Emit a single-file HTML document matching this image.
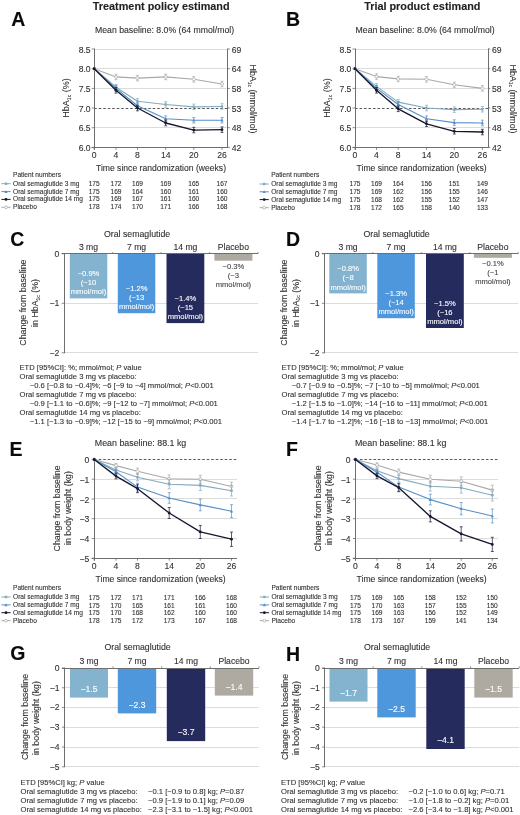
<!DOCTYPE html>
<html lang="en"><head><meta charset="utf-8"><title>Figure</title>
<style>html,body{margin:0;padding:0;background:#fff}svg{display:block}text{stroke-width:0.1px;font-family:"Liberation Sans",Arial,Helvetica,sans-serif}</style>
</head><body>
<svg width="520" height="815" viewBox="0 0 520 815">
<rect width="520" height="815" fill="#fff"/>
<text x="161.2" y="9.5" font-size="10.85" text-anchor="middle" fill="#222" stroke="#222" font-weight="bold">Treatment policy estimand</text>
<text x="422.3" y="9.5" font-size="10.85" text-anchor="middle" fill="#222" stroke="#222" font-weight="bold">Trial product estimand</text>
<text x="11.2" y="25.8" font-size="19.5" text-anchor="start" fill="#0a0a0a" stroke="#0a0a0a" font-weight="bold">A</text>
<text x="285.9" y="25.6" font-size="19.5" text-anchor="start" fill="#0a0a0a" stroke="#0a0a0a" font-weight="bold">B</text>
<text x="10.3" y="245.6" font-size="19.5" text-anchor="start" fill="#0a0a0a" stroke="#0a0a0a" font-weight="bold">C</text>
<text x="285.9" y="245.7" font-size="19.5" text-anchor="start" fill="#0a0a0a" stroke="#0a0a0a" font-weight="bold">D</text>
<text x="9.4" y="456.4" font-size="19.5" text-anchor="start" fill="#0a0a0a" stroke="#0a0a0a" font-weight="bold">E</text>
<text x="285.9" y="456.4" font-size="19.5" text-anchor="start" fill="#0a0a0a" stroke="#0a0a0a" font-weight="bold">F</text>
<text x="10.3" y="660.3" font-size="19.5" text-anchor="start" fill="#0a0a0a" stroke="#0a0a0a" font-weight="bold">G</text>
<text x="285.9" y="660.5" font-size="19.5" text-anchor="start" fill="#0a0a0a" stroke="#0a0a0a" font-weight="bold">H</text>
<line x1="94.2" y1="49.5" x2="227.9" y2="49.5" stroke="#dcdcdc" stroke-width="1"/>
<line x1="94.2" y1="68.5" x2="227.9" y2="68.5" stroke="#dcdcdc" stroke-width="1"/>
<line x1="94.2" y1="88.5" x2="227.9" y2="88.5" stroke="#dcdcdc" stroke-width="1"/>
<line x1="94.2" y1="127.5" x2="227.9" y2="127.5" stroke="#dcdcdc" stroke-width="1"/>
<line x1="94.2" y1="108.5" x2="227.9" y2="108.5" stroke="#3a3a3a" stroke-width="0.85" stroke-dasharray="2.6 1.9"/>
<line x1="94.5" y1="48.5" x2="94.5" y2="149.9" stroke="#6e6e6e" stroke-width="1"/>
<line x1="91.7" y1="147.5" x2="227.9" y2="147.5" stroke="#6e6e6e" stroke-width="1"/>
<line x1="91.7" y1="49.0" x2="94.2" y2="49.0" stroke="#6e6e6e" stroke-width="0.8"/>
<text x="90.6" y="52.5" font-size="8.6" text-anchor="end" fill="#303030" stroke="#303030">8.5</text>
<line x1="91.7" y1="68.7" x2="94.2" y2="68.7" stroke="#6e6e6e" stroke-width="0.8"/>
<text x="90.6" y="72.2" font-size="8.6" text-anchor="end" fill="#303030" stroke="#303030">8.0</text>
<line x1="91.7" y1="88.4" x2="94.2" y2="88.4" stroke="#6e6e6e" stroke-width="0.8"/>
<text x="90.6" y="91.9" font-size="8.6" text-anchor="end" fill="#303030" stroke="#303030">7.5</text>
<line x1="91.7" y1="108.0" x2="94.2" y2="108.0" stroke="#6e6e6e" stroke-width="0.8"/>
<text x="90.6" y="111.5" font-size="8.6" text-anchor="end" fill="#303030" stroke="#303030">7.0</text>
<line x1="91.7" y1="127.7" x2="94.2" y2="127.7" stroke="#6e6e6e" stroke-width="0.8"/>
<text x="90.6" y="131.2" font-size="8.6" text-anchor="end" fill="#303030" stroke="#303030">6.5</text>
<line x1="91.7" y1="147.4" x2="94.2" y2="147.4" stroke="#6e6e6e" stroke-width="0.8"/>
<text x="90.6" y="150.9" font-size="8.6" text-anchor="end" fill="#303030" stroke="#303030">6.0</text>
<line x1="94.2" y1="147.4" x2="94.2" y2="149.9" stroke="#6e6e6e" stroke-width="0.8"/>
<text x="94.2" y="157.8" font-size="8.6" text-anchor="middle" fill="#303030" stroke="#303030">0</text>
<line x1="116" y1="147.4" x2="116" y2="149.9" stroke="#6e6e6e" stroke-width="0.8"/>
<text x="116.0" y="157.8" font-size="8.6" text-anchor="middle" fill="#303030" stroke="#303030">4</text>
<line x1="137.5" y1="147.4" x2="137.5" y2="149.9" stroke="#6e6e6e" stroke-width="0.8"/>
<text x="137.5" y="157.8" font-size="8.6" text-anchor="middle" fill="#303030" stroke="#303030">8</text>
<line x1="165.7" y1="147.4" x2="165.7" y2="149.9" stroke="#6e6e6e" stroke-width="0.8"/>
<text x="165.7" y="157.8" font-size="8.6" text-anchor="middle" fill="#303030" stroke="#303030">14</text>
<line x1="193.8" y1="147.4" x2="193.8" y2="149.9" stroke="#6e6e6e" stroke-width="0.8"/>
<text x="193.8" y="157.8" font-size="8.6" text-anchor="middle" fill="#303030" stroke="#303030">20</text>
<line x1="222" y1="147.4" x2="222" y2="149.9" stroke="#6e6e6e" stroke-width="0.8"/>
<text x="222.0" y="157.8" font-size="8.6" text-anchor="middle" fill="#303030" stroke="#303030">26</text>
<line x1="227.5" y1="48.5" x2="227.5" y2="147.9" stroke="#6e6e6e" stroke-width="1"/>
<line x1="227.9" y1="49.0" x2="229.9" y2="49.0" stroke="#6e6e6e" stroke-width="0.8"/>
<text x="231.7" y="52.5" font-size="8.6" text-anchor="start" fill="#303030" stroke="#303030">69</text>
<line x1="227.9" y1="68.7" x2="229.9" y2="68.7" stroke="#6e6e6e" stroke-width="0.8"/>
<text x="231.7" y="72.2" font-size="8.6" text-anchor="start" fill="#303030" stroke="#303030">64</text>
<line x1="227.9" y1="88.4" x2="229.9" y2="88.4" stroke="#6e6e6e" stroke-width="0.8"/>
<text x="231.7" y="91.9" font-size="8.6" text-anchor="start" fill="#303030" stroke="#303030">58</text>
<line x1="227.9" y1="108.0" x2="229.9" y2="108.0" stroke="#6e6e6e" stroke-width="0.8"/>
<text x="231.7" y="111.5" font-size="8.6" text-anchor="start" fill="#303030" stroke="#303030">53</text>
<line x1="227.9" y1="127.7" x2="229.9" y2="127.7" stroke="#6e6e6e" stroke-width="0.8"/>
<text x="231.7" y="131.2" font-size="8.6" text-anchor="start" fill="#303030" stroke="#303030">48</text>
<line x1="227.9" y1="147.4" x2="229.9" y2="147.4" stroke="#6e6e6e" stroke-width="0.8"/>
<text x="231.7" y="150.9" font-size="8.6" text-anchor="start" fill="#303030" stroke="#303030">42</text>
<polyline points="94.2,68.7 116.0,76.9 137.5,78.1 165.7,76.9 193.8,79.3 222.0,84.0" fill="none" stroke="#a9a9a9" stroke-width="1.1" stroke-linejoin="round"/>
<circle cx="94.2" cy="68.7" r="1.5" fill="#fff" stroke="#a9a9a9" stroke-width="0.7"/>
<path d="M116.0 74.2V79.7M114.5 74.2h3M114.5 79.7h3" stroke="#a9a9a9" stroke-width="0.7" fill="none"/>
<circle cx="116.0" cy="76.9" r="1.5" fill="#fff" stroke="#a9a9a9" stroke-width="0.7"/>
<path d="M137.5 75.4V80.9M136.0 75.4h3M136.0 80.9h3" stroke="#a9a9a9" stroke-width="0.7" fill="none"/>
<circle cx="137.5" cy="78.1" r="1.5" fill="#fff" stroke="#a9a9a9" stroke-width="0.7"/>
<path d="M165.7 74.2V79.7M164.2 74.2h3M164.2 79.7h3" stroke="#a9a9a9" stroke-width="0.7" fill="none"/>
<circle cx="165.7" cy="76.9" r="1.5" fill="#fff" stroke="#a9a9a9" stroke-width="0.7"/>
<path d="M193.8 76.6V82.1M192.3 76.6h3M192.3 82.1h3" stroke="#a9a9a9" stroke-width="0.7" fill="none"/>
<circle cx="193.8" cy="79.3" r="1.5" fill="#fff" stroke="#a9a9a9" stroke-width="0.7"/>
<path d="M222.0 81.3V86.8M220.5 81.3h3M220.5 86.8h3" stroke="#a9a9a9" stroke-width="0.7" fill="none"/>
<circle cx="222.0" cy="84.0" r="1.5" fill="#fff" stroke="#a9a9a9" stroke-width="0.7"/>
<polyline points="94.2,68.7 116.0,87.2 137.5,101.3 165.7,104.5 193.8,106.9 222.0,106.5" fill="none" stroke="#83aabd" stroke-width="1.1" stroke-linejoin="round"/>
<rect x="93.0" y="67.5" width="2.4" height="2.4" fill="#83aabd"/>
<path d="M116.0 84.4V89.9M114.5 84.4h3M114.5 89.9h3" stroke="#83aabd" stroke-width="0.7" fill="none"/>
<rect x="114.8" y="86.0" width="2.4" height="2.4" fill="#83aabd"/>
<path d="M137.5 98.6V104.1M136.0 98.6h3M136.0 104.1h3" stroke="#83aabd" stroke-width="0.7" fill="none"/>
<rect x="136.3" y="100.1" width="2.4" height="2.4" fill="#83aabd"/>
<path d="M165.7 101.7V107.3M164.2 101.7h3M164.2 107.3h3" stroke="#83aabd" stroke-width="0.7" fill="none"/>
<rect x="164.5" y="103.3" width="2.4" height="2.4" fill="#83aabd"/>
<path d="M193.8 104.1V109.6M192.3 104.1h3M192.3 109.6h3" stroke="#83aabd" stroke-width="0.7" fill="none"/>
<rect x="192.6" y="105.7" width="2.4" height="2.4" fill="#83aabd"/>
<path d="M222.0 103.7V109.2M220.5 103.7h3M220.5 109.2h3" stroke="#83aabd" stroke-width="0.7" fill="none"/>
<rect x="220.8" y="105.3" width="2.4" height="2.4" fill="#83aabd"/>
<polyline points="94.2,68.7 116.0,88.4 137.5,105.7 165.7,118.7 193.8,120.2 222.0,120.2" fill="none" stroke="#578fc9" stroke-width="1.1" stroke-linejoin="round"/>
<path d="M94.2 67.1l1.6 2.9h-3.2z" fill="#578fc9"/>
<path d="M116.0 85.6V91.1M114.5 85.6h3M114.5 91.1h3" stroke="#578fc9" stroke-width="0.7" fill="none"/>
<path d="M116.0 86.8l1.6 2.9h-3.2z" fill="#578fc9"/>
<path d="M137.5 102.9V108.4M136.0 102.9h3M136.0 108.4h3" stroke="#578fc9" stroke-width="0.7" fill="none"/>
<path d="M137.5 104.1l1.6 2.9h-3.2z" fill="#578fc9"/>
<path d="M165.7 115.9V121.4M164.2 115.9h3M164.2 121.4h3" stroke="#578fc9" stroke-width="0.7" fill="none"/>
<path d="M165.7 117.1l1.6 2.9h-3.2z" fill="#578fc9"/>
<path d="M193.8 117.5V123.0M192.3 117.5h3M192.3 123.0h3" stroke="#578fc9" stroke-width="0.7" fill="none"/>
<path d="M193.8 118.6l1.6 2.9h-3.2z" fill="#578fc9"/>
<path d="M222.0 117.5V123.0M220.5 117.5h3M220.5 123.0h3" stroke="#578fc9" stroke-width="0.7" fill="none"/>
<path d="M222.0 118.6l1.6 2.9h-3.2z" fill="#578fc9"/>
<polyline points="94.2,68.7 116.0,90.3 137.5,108.0 165.7,123.0 193.8,130.1 222.0,129.7" fill="none" stroke="#15172e" stroke-width="1.35" stroke-linejoin="round"/>
<circle cx="94.2" cy="68.7" r="1.4" fill="#15172e"/>
<path d="M116.0 87.6V93.1M114.5 87.6h3M114.5 93.1h3" stroke="#15172e" stroke-width="0.7" fill="none"/>
<circle cx="116.0" cy="90.3" r="1.4" fill="#15172e"/>
<path d="M137.5 105.3V110.8M136.0 105.3h3M136.0 110.8h3" stroke="#15172e" stroke-width="0.7" fill="none"/>
<circle cx="137.5" cy="108.0" r="1.4" fill="#15172e"/>
<path d="M165.7 120.2V125.8M164.2 120.2h3M164.2 125.8h3" stroke="#15172e" stroke-width="0.7" fill="none"/>
<circle cx="165.7" cy="123.0" r="1.4" fill="#15172e"/>
<path d="M193.8 127.3V132.8M192.3 127.3h3M192.3 132.8h3" stroke="#15172e" stroke-width="0.7" fill="none"/>
<circle cx="193.8" cy="130.1" r="1.4" fill="#15172e"/>
<path d="M222.0 126.9V132.4M220.5 126.9h3M220.5 132.4h3" stroke="#15172e" stroke-width="0.7" fill="none"/>
<circle cx="222.0" cy="129.7" r="1.4" fill="#15172e"/>
<line x1="355" y1="49.5" x2="488.3" y2="49.5" stroke="#dcdcdc" stroke-width="1"/>
<line x1="355" y1="68.5" x2="488.3" y2="68.5" stroke="#dcdcdc" stroke-width="1"/>
<line x1="355" y1="88.5" x2="488.3" y2="88.5" stroke="#dcdcdc" stroke-width="1"/>
<line x1="355" y1="127.5" x2="488.3" y2="127.5" stroke="#dcdcdc" stroke-width="1"/>
<line x1="355" y1="108.5" x2="488.3" y2="108.5" stroke="#3a3a3a" stroke-width="0.85" stroke-dasharray="2.6 1.9"/>
<line x1="355.5" y1="48.5" x2="355.5" y2="149.9" stroke="#6e6e6e" stroke-width="1"/>
<line x1="352.5" y1="147.5" x2="488.3" y2="147.5" stroke="#6e6e6e" stroke-width="1"/>
<line x1="352.5" y1="49.0" x2="355" y2="49.0" stroke="#6e6e6e" stroke-width="0.8"/>
<text x="351.4" y="52.5" font-size="8.6" text-anchor="end" fill="#303030" stroke="#303030">8.5</text>
<line x1="352.5" y1="68.7" x2="355" y2="68.7" stroke="#6e6e6e" stroke-width="0.8"/>
<text x="351.4" y="72.2" font-size="8.6" text-anchor="end" fill="#303030" stroke="#303030">8.0</text>
<line x1="352.5" y1="88.4" x2="355" y2="88.4" stroke="#6e6e6e" stroke-width="0.8"/>
<text x="351.4" y="91.9" font-size="8.6" text-anchor="end" fill="#303030" stroke="#303030">7.5</text>
<line x1="352.5" y1="108.0" x2="355" y2="108.0" stroke="#6e6e6e" stroke-width="0.8"/>
<text x="351.4" y="111.5" font-size="8.6" text-anchor="end" fill="#303030" stroke="#303030">7.0</text>
<line x1="352.5" y1="127.7" x2="355" y2="127.7" stroke="#6e6e6e" stroke-width="0.8"/>
<text x="351.4" y="131.2" font-size="8.6" text-anchor="end" fill="#303030" stroke="#303030">6.5</text>
<line x1="352.5" y1="147.4" x2="355" y2="147.4" stroke="#6e6e6e" stroke-width="0.8"/>
<text x="351.4" y="150.9" font-size="8.6" text-anchor="end" fill="#303030" stroke="#303030">6.0</text>
<line x1="355" y1="147.4" x2="355" y2="149.9" stroke="#6e6e6e" stroke-width="0.8"/>
<text x="355.0" y="157.8" font-size="8.6" text-anchor="middle" fill="#303030" stroke="#303030">0</text>
<line x1="376.5" y1="147.4" x2="376.5" y2="149.9" stroke="#6e6e6e" stroke-width="0.8"/>
<text x="376.5" y="157.8" font-size="8.6" text-anchor="middle" fill="#303030" stroke="#303030">4</text>
<line x1="398.2" y1="147.4" x2="398.2" y2="149.9" stroke="#6e6e6e" stroke-width="0.8"/>
<text x="398.2" y="157.8" font-size="8.6" text-anchor="middle" fill="#303030" stroke="#303030">8</text>
<line x1="426.5" y1="147.4" x2="426.5" y2="149.9" stroke="#6e6e6e" stroke-width="0.8"/>
<text x="426.5" y="157.8" font-size="8.6" text-anchor="middle" fill="#303030" stroke="#303030">14</text>
<line x1="454.3" y1="147.4" x2="454.3" y2="149.9" stroke="#6e6e6e" stroke-width="0.8"/>
<text x="454.3" y="157.8" font-size="8.6" text-anchor="middle" fill="#303030" stroke="#303030">20</text>
<line x1="482.4" y1="147.4" x2="482.4" y2="149.9" stroke="#6e6e6e" stroke-width="0.8"/>
<text x="482.4" y="157.8" font-size="8.6" text-anchor="middle" fill="#303030" stroke="#303030">26</text>
<line x1="488.5" y1="48.5" x2="488.5" y2="147.9" stroke="#6e6e6e" stroke-width="1"/>
<line x1="488.3" y1="49.0" x2="490.3" y2="49.0" stroke="#6e6e6e" stroke-width="0.8"/>
<text x="492.1" y="52.5" font-size="8.6" text-anchor="start" fill="#303030" stroke="#303030">69</text>
<line x1="488.3" y1="68.7" x2="490.3" y2="68.7" stroke="#6e6e6e" stroke-width="0.8"/>
<text x="492.1" y="72.2" font-size="8.6" text-anchor="start" fill="#303030" stroke="#303030">64</text>
<line x1="488.3" y1="88.4" x2="490.3" y2="88.4" stroke="#6e6e6e" stroke-width="0.8"/>
<text x="492.1" y="91.9" font-size="8.6" text-anchor="start" fill="#303030" stroke="#303030">58</text>
<line x1="488.3" y1="108.0" x2="490.3" y2="108.0" stroke="#6e6e6e" stroke-width="0.8"/>
<text x="492.1" y="111.5" font-size="8.6" text-anchor="start" fill="#303030" stroke="#303030">53</text>
<line x1="488.3" y1="127.7" x2="490.3" y2="127.7" stroke="#6e6e6e" stroke-width="0.8"/>
<text x="492.1" y="131.2" font-size="8.6" text-anchor="start" fill="#303030" stroke="#303030">48</text>
<line x1="488.3" y1="147.4" x2="490.3" y2="147.4" stroke="#6e6e6e" stroke-width="0.8"/>
<text x="492.1" y="150.9" font-size="8.6" text-anchor="start" fill="#303030" stroke="#303030">42</text>
<polyline points="355.0,68.7 376.5,76.6 398.2,78.9 426.5,79.3 454.3,84.8 482.4,88.4" fill="none" stroke="#a9a9a9" stroke-width="1.1" stroke-linejoin="round"/>
<circle cx="355.0" cy="68.7" r="1.5" fill="#fff" stroke="#a9a9a9" stroke-width="0.7"/>
<path d="M376.5 73.8V79.3M375.0 73.8h3M375.0 79.3h3" stroke="#a9a9a9" stroke-width="0.7" fill="none"/>
<circle cx="376.5" cy="76.6" r="1.5" fill="#fff" stroke="#a9a9a9" stroke-width="0.7"/>
<path d="M398.2 76.2V81.7M396.7 76.2h3M396.7 81.7h3" stroke="#a9a9a9" stroke-width="0.7" fill="none"/>
<circle cx="398.2" cy="78.9" r="1.5" fill="#fff" stroke="#a9a9a9" stroke-width="0.7"/>
<path d="M426.5 76.6V82.1M425.0 76.6h3M425.0 82.1h3" stroke="#a9a9a9" stroke-width="0.7" fill="none"/>
<circle cx="426.5" cy="79.3" r="1.5" fill="#fff" stroke="#a9a9a9" stroke-width="0.7"/>
<path d="M454.3 82.1V87.6M452.8 82.1h3M452.8 87.6h3" stroke="#a9a9a9" stroke-width="0.7" fill="none"/>
<circle cx="454.3" cy="84.8" r="1.5" fill="#fff" stroke="#a9a9a9" stroke-width="0.7"/>
<path d="M482.4 85.6V91.1M480.9 85.6h3M480.9 91.1h3" stroke="#a9a9a9" stroke-width="0.7" fill="none"/>
<circle cx="482.4" cy="88.4" r="1.5" fill="#fff" stroke="#a9a9a9" stroke-width="0.7"/>
<polyline points="355.0,68.7 376.5,86.4 398.2,102.1 426.5,108.0 454.3,109.6 482.4,109.2" fill="none" stroke="#83aabd" stroke-width="1.1" stroke-linejoin="round"/>
<rect x="353.8" y="67.5" width="2.4" height="2.4" fill="#83aabd"/>
<path d="M376.5 83.6V89.1M375.0 83.6h3M375.0 89.1h3" stroke="#83aabd" stroke-width="0.7" fill="none"/>
<rect x="375.3" y="85.2" width="2.4" height="2.4" fill="#83aabd"/>
<path d="M398.2 99.4V104.9M396.7 99.4h3M396.7 104.9h3" stroke="#83aabd" stroke-width="0.7" fill="none"/>
<rect x="397.0" y="100.9" width="2.4" height="2.4" fill="#83aabd"/>
<path d="M426.5 105.3V110.8M425.0 105.3h3M425.0 110.8h3" stroke="#83aabd" stroke-width="0.7" fill="none"/>
<rect x="425.3" y="106.8" width="2.4" height="2.4" fill="#83aabd"/>
<path d="M454.3 106.9V112.4M452.8 106.9h3M452.8 112.4h3" stroke="#83aabd" stroke-width="0.7" fill="none"/>
<rect x="453.1" y="108.4" width="2.4" height="2.4" fill="#83aabd"/>
<path d="M482.4 106.5V112.0M480.9 106.5h3M480.9 112.0h3" stroke="#83aabd" stroke-width="0.7" fill="none"/>
<rect x="481.2" y="108.0" width="2.4" height="2.4" fill="#83aabd"/>
<polyline points="355.0,68.7 376.5,88.4 398.2,104.5 426.5,118.7 454.3,122.6 482.4,123.0" fill="none" stroke="#578fc9" stroke-width="1.1" stroke-linejoin="round"/>
<path d="M355.0 67.1l1.6 2.9h-3.2z" fill="#578fc9"/>
<path d="M376.5 85.6V91.1M375.0 85.6h3M375.0 91.1h3" stroke="#578fc9" stroke-width="0.7" fill="none"/>
<path d="M376.5 86.8l1.6 2.9h-3.2z" fill="#578fc9"/>
<path d="M398.2 101.7V107.3M396.7 101.7h3M396.7 107.3h3" stroke="#578fc9" stroke-width="0.7" fill="none"/>
<path d="M398.2 102.9l1.6 2.9h-3.2z" fill="#578fc9"/>
<path d="M426.5 115.9V121.4M425.0 115.9h3M425.0 121.4h3" stroke="#578fc9" stroke-width="0.7" fill="none"/>
<path d="M426.5 117.1l1.6 2.9h-3.2z" fill="#578fc9"/>
<path d="M454.3 119.8V125.4M452.8 119.8h3M452.8 125.4h3" stroke="#578fc9" stroke-width="0.7" fill="none"/>
<path d="M454.3 121.0l1.6 2.9h-3.2z" fill="#578fc9"/>
<path d="M482.4 120.2V125.8M480.9 120.2h3M480.9 125.8h3" stroke="#578fc9" stroke-width="0.7" fill="none"/>
<path d="M482.4 121.4l1.6 2.9h-3.2z" fill="#578fc9"/>
<polyline points="355.0,68.7 376.5,90.3 398.2,108.8 426.5,123.8 454.3,131.3 482.4,132.0" fill="none" stroke="#15172e" stroke-width="1.35" stroke-linejoin="round"/>
<circle cx="355.0" cy="68.7" r="1.4" fill="#15172e"/>
<path d="M376.5 87.6V93.1M375.0 87.6h3M375.0 93.1h3" stroke="#15172e" stroke-width="0.7" fill="none"/>
<circle cx="376.5" cy="90.3" r="1.4" fill="#15172e"/>
<path d="M398.2 106.1V111.6M396.7 106.1h3M396.7 111.6h3" stroke="#15172e" stroke-width="0.7" fill="none"/>
<circle cx="398.2" cy="108.8" r="1.4" fill="#15172e"/>
<path d="M426.5 121.0V126.5M425.0 121.0h3M425.0 126.5h3" stroke="#15172e" stroke-width="0.7" fill="none"/>
<circle cx="426.5" cy="123.8" r="1.4" fill="#15172e"/>
<path d="M454.3 128.5V134.0M452.8 128.5h3M452.8 134.0h3" stroke="#15172e" stroke-width="0.7" fill="none"/>
<circle cx="454.3" cy="131.3" r="1.4" fill="#15172e"/>
<path d="M482.4 129.3V134.8M480.9 129.3h3M480.9 134.8h3" stroke="#15172e" stroke-width="0.7" fill="none"/>
<circle cx="482.4" cy="132.0" r="1.4" fill="#15172e"/>
<text x="95.0" y="33.3" font-size="8.7" text-anchor="start" fill="#303030" stroke="#303030">Mean baseline: 8.0% (64 mmol/mol)</text>
<text transform="translate(69.3,98.0) rotate(-90)" font-size="9" text-anchor="middle" fill="#303030" stroke="#303030">HbA<tspan font-size="5" dy="1.6">1c</tspan><tspan dy="-1.6"> </tspan>(%)</text>
<text transform="translate(249.6,99.0) rotate(90)" font-size="8.8" text-anchor="middle" fill="#303030" stroke="#303030">HbA<tspan font-size="5" dy="1.6">1c</tspan><tspan dy="-1.6"> </tspan>(mmol/mol)</text>
<text x="161.0" y="171.0" font-size="8.6" text-anchor="middle" fill="#303030" stroke="#303030">Time since randomization (weeks)</text>
<text x="355.6" y="33.3" font-size="8.7" text-anchor="start" fill="#303030" stroke="#303030">Mean baseline: 8.0% (64 mmol/mol)</text>
<text transform="translate(329.9,98.0) rotate(-90)" font-size="9" text-anchor="middle" fill="#303030" stroke="#303030">HbA<tspan font-size="5" dy="1.6">1c</tspan><tspan dy="-1.6"> </tspan>(%)</text>
<text transform="translate(510.2,99.0) rotate(90)" font-size="8.8" text-anchor="middle" fill="#303030" stroke="#303030">HbA<tspan font-size="5" dy="1.6">1c</tspan><tspan dy="-1.6"> </tspan>(mmol/mol)</text>
<text x="421.6" y="171.0" font-size="8.6" text-anchor="middle" fill="#303030" stroke="#303030">Time since randomization (weeks)</text>
<text x="13.0" y="177.0" font-size="6.6" text-anchor="start" fill="#303030" stroke="#303030">Patient numbers</text>
<line x1="1.4" y1="183.7" x2="10.6" y2="183.7" stroke="#83aabd" stroke-width="1"/>
<rect x="4.8" y="182.5" width="2.4" height="2.4" fill="#83aabd"/>
<text x="13.0" y="185.6" font-size="6.6" text-anchor="start" fill="#303030" stroke="#303030">Oral semaglutide 3 mg</text>
<text x="94.2" y="185.6" font-size="6.6" text-anchor="middle" fill="#303030" stroke="#303030">175</text>
<text x="116.0" y="185.6" font-size="6.6" text-anchor="middle" fill="#303030" stroke="#303030">172</text>
<text x="137.5" y="185.6" font-size="6.6" text-anchor="middle" fill="#303030" stroke="#303030">169</text>
<text x="165.7" y="185.6" font-size="6.6" text-anchor="middle" fill="#303030" stroke="#303030">169</text>
<text x="193.8" y="185.6" font-size="6.6" text-anchor="middle" fill="#303030" stroke="#303030">165</text>
<text x="222.0" y="185.6" font-size="6.6" text-anchor="middle" fill="#303030" stroke="#303030">167</text>
<line x1="1.4" y1="191.6" x2="10.6" y2="191.6" stroke="#578fc9" stroke-width="1"/>
<path d="M6.0 190.0l1.6 2.9h-3.2z" fill="#578fc9"/>
<text x="13.0" y="193.5" font-size="6.6" text-anchor="start" fill="#303030" stroke="#303030">Oral semaglutide 7 mg</text>
<text x="94.2" y="193.5" font-size="6.6" text-anchor="middle" fill="#303030" stroke="#303030">175</text>
<text x="116.0" y="193.5" font-size="6.6" text-anchor="middle" fill="#303030" stroke="#303030">169</text>
<text x="137.5" y="193.5" font-size="6.6" text-anchor="middle" fill="#303030" stroke="#303030">164</text>
<text x="165.7" y="193.5" font-size="6.6" text-anchor="middle" fill="#303030" stroke="#303030">160</text>
<text x="193.8" y="193.5" font-size="6.6" text-anchor="middle" fill="#303030" stroke="#303030">161</text>
<text x="222.0" y="193.5" font-size="6.6" text-anchor="middle" fill="#303030" stroke="#303030">160</text>
<line x1="1.4" y1="199.4" x2="10.6" y2="199.4" stroke="#15172e" stroke-width="1"/>
<circle cx="6.0" cy="199.4" r="1.4" fill="#15172e"/>
<text x="13.0" y="201.3" font-size="6.6" text-anchor="start" fill="#303030" stroke="#303030">Oral semaglutide 14 mg</text>
<text x="94.2" y="201.3" font-size="6.6" text-anchor="middle" fill="#303030" stroke="#303030">175</text>
<text x="116.0" y="201.3" font-size="6.6" text-anchor="middle" fill="#303030" stroke="#303030">169</text>
<text x="137.5" y="201.3" font-size="6.6" text-anchor="middle" fill="#303030" stroke="#303030">167</text>
<text x="165.7" y="201.3" font-size="6.6" text-anchor="middle" fill="#303030" stroke="#303030">161</text>
<text x="193.8" y="201.3" font-size="6.6" text-anchor="middle" fill="#303030" stroke="#303030">160</text>
<text x="222.0" y="201.3" font-size="6.6" text-anchor="middle" fill="#303030" stroke="#303030">160</text>
<line x1="1.4" y1="207.3" x2="10.6" y2="207.3" stroke="#a9a9a9" stroke-width="1"/>
<circle cx="6.0" cy="207.3" r="1.4" fill="#fff" stroke="#a9a9a9" stroke-width="0.7"/>
<text x="13.0" y="209.2" font-size="6.6" text-anchor="start" fill="#303030" stroke="#303030">Placebo</text>
<text x="94.2" y="209.2" font-size="6.6" text-anchor="middle" fill="#303030" stroke="#303030">178</text>
<text x="116.0" y="209.2" font-size="6.6" text-anchor="middle" fill="#303030" stroke="#303030">174</text>
<text x="137.5" y="209.2" font-size="6.6" text-anchor="middle" fill="#303030" stroke="#303030">170</text>
<text x="165.7" y="209.2" font-size="6.6" text-anchor="middle" fill="#303030" stroke="#303030">171</text>
<text x="193.8" y="209.2" font-size="6.6" text-anchor="middle" fill="#303030" stroke="#303030">166</text>
<text x="222.0" y="209.2" font-size="6.6" text-anchor="middle" fill="#303030" stroke="#303030">168</text>
<text x="271.2" y="177.2" font-size="6.6" text-anchor="start" fill="#303030" stroke="#303030">Patient numbers</text>
<line x1="259.59999999999997" y1="184.0" x2="268.8" y2="184.0" stroke="#83aabd" stroke-width="1"/>
<rect x="263.0" y="182.8" width="2.4" height="2.4" fill="#83aabd"/>
<text x="271.2" y="185.9" font-size="6.6" text-anchor="start" fill="#303030" stroke="#303030">Oral semaglutide 3 mg</text>
<text x="355.0" y="185.9" font-size="6.6" text-anchor="middle" fill="#303030" stroke="#303030">175</text>
<text x="376.5" y="185.9" font-size="6.6" text-anchor="middle" fill="#303030" stroke="#303030">169</text>
<text x="398.2" y="185.9" font-size="6.6" text-anchor="middle" fill="#303030" stroke="#303030">164</text>
<text x="426.5" y="185.9" font-size="6.6" text-anchor="middle" fill="#303030" stroke="#303030">156</text>
<text x="454.3" y="185.9" font-size="6.6" text-anchor="middle" fill="#303030" stroke="#303030">151</text>
<text x="482.4" y="185.9" font-size="6.6" text-anchor="middle" fill="#303030" stroke="#303030">149</text>
<line x1="259.59999999999997" y1="191.8" x2="268.8" y2="191.8" stroke="#578fc9" stroke-width="1"/>
<path d="M264.2 190.2l1.6 2.9h-3.2z" fill="#578fc9"/>
<text x="271.2" y="193.7" font-size="6.6" text-anchor="start" fill="#303030" stroke="#303030">Oral semaglutide 7 mg</text>
<text x="355.0" y="193.7" font-size="6.6" text-anchor="middle" fill="#303030" stroke="#303030">175</text>
<text x="376.5" y="193.7" font-size="6.6" text-anchor="middle" fill="#303030" stroke="#303030">169</text>
<text x="398.2" y="193.7" font-size="6.6" text-anchor="middle" fill="#303030" stroke="#303030">162</text>
<text x="426.5" y="193.7" font-size="6.6" text-anchor="middle" fill="#303030" stroke="#303030">156</text>
<text x="454.3" y="193.7" font-size="6.6" text-anchor="middle" fill="#303030" stroke="#303030">155</text>
<text x="482.4" y="193.7" font-size="6.6" text-anchor="middle" fill="#303030" stroke="#303030">146</text>
<line x1="259.59999999999997" y1="199.6" x2="268.8" y2="199.6" stroke="#15172e" stroke-width="1"/>
<circle cx="264.2" cy="199.6" r="1.4" fill="#15172e"/>
<text x="271.2" y="201.5" font-size="6.6" text-anchor="start" fill="#303030" stroke="#303030">Oral semaglutide 14 mg</text>
<text x="355.0" y="201.5" font-size="6.6" text-anchor="middle" fill="#303030" stroke="#303030">175</text>
<text x="376.5" y="201.5" font-size="6.6" text-anchor="middle" fill="#303030" stroke="#303030">168</text>
<text x="398.2" y="201.5" font-size="6.6" text-anchor="middle" fill="#303030" stroke="#303030">162</text>
<text x="426.5" y="201.5" font-size="6.6" text-anchor="middle" fill="#303030" stroke="#303030">155</text>
<text x="454.3" y="201.5" font-size="6.6" text-anchor="middle" fill="#303030" stroke="#303030">152</text>
<text x="482.4" y="201.5" font-size="6.6" text-anchor="middle" fill="#303030" stroke="#303030">147</text>
<line x1="259.59999999999997" y1="207.7" x2="268.8" y2="207.7" stroke="#a9a9a9" stroke-width="1"/>
<circle cx="264.2" cy="207.7" r="1.4" fill="#fff" stroke="#a9a9a9" stroke-width="0.7"/>
<text x="271.2" y="209.6" font-size="6.6" text-anchor="start" fill="#303030" stroke="#303030">Placebo</text>
<text x="355.0" y="209.6" font-size="6.6" text-anchor="middle" fill="#303030" stroke="#303030">178</text>
<text x="376.5" y="209.6" font-size="6.6" text-anchor="middle" fill="#303030" stroke="#303030">172</text>
<text x="398.2" y="209.6" font-size="6.6" text-anchor="middle" fill="#303030" stroke="#303030">165</text>
<text x="426.5" y="209.6" font-size="6.6" text-anchor="middle" fill="#303030" stroke="#303030">158</text>
<text x="454.3" y="209.6" font-size="6.6" text-anchor="middle" fill="#303030" stroke="#303030">140</text>
<text x="482.4" y="209.6" font-size="6.6" text-anchor="middle" fill="#303030" stroke="#303030">133</text>
<line x1="64.2" y1="303.5" x2="258" y2="303.5" stroke="#dcdcdc" stroke-width="1"/>
<line x1="64.2" y1="352.5" x2="258" y2="352.5" stroke="#dcdcdc" stroke-width="1"/>
<rect x="69.8" y="253.8" width="37.5" height="44.6" fill="#84b3d0"/>
<rect x="117.8" y="253.8" width="37.5" height="59.4" fill="#4e97dc"/>
<rect x="166.5" y="253.8" width="37.8" height="69.3" fill="#252b5c"/>
<rect x="214.4" y="253.8" width="38.0" height="6.9" fill="#aeaaa1"/>
<line x1="64.5" y1="253.3" x2="64.5" y2="353.3" stroke="#6e6e6e" stroke-width="1"/>
<line x1="61.7" y1="253.5" x2="258" y2="253.5" stroke="#6e6e6e" stroke-width="1"/>
<line x1="61.7" y1="253.8" x2="64.2" y2="253.8" stroke="#6e6e6e" stroke-width="0.8"/>
<text x="59.4" y="256.5" font-size="8.6" text-anchor="end" fill="#303030" stroke="#303030">0</text>
<line x1="61.7" y1="303.3" x2="64.2" y2="303.3" stroke="#6e6e6e" stroke-width="0.8"/>
<text x="59.4" y="306.0" font-size="8.6" text-anchor="end" fill="#303030" stroke="#303030">−1</text>
<line x1="61.7" y1="352.8" x2="64.2" y2="352.8" stroke="#6e6e6e" stroke-width="0.8"/>
<text x="59.4" y="355.5" font-size="8.6" text-anchor="end" fill="#303030" stroke="#303030">−2</text>
<line x1="112.7" y1="252.0" x2="112.7" y2="253.8" stroke="#6e6e6e" stroke-width="0.7"/>
<line x1="161.1" y1="252.0" x2="161.1" y2="253.8" stroke="#6e6e6e" stroke-width="0.7"/>
<line x1="209.6" y1="252.0" x2="209.6" y2="253.8" stroke="#6e6e6e" stroke-width="0.7"/>
<line x1="258.0" y1="252.0" x2="258.0" y2="253.8" stroke="#6e6e6e" stroke-width="0.7"/>
<text x="88.5" y="249.6" font-size="8.6" text-anchor="middle" fill="#303030" stroke="#303030">3 mg</text>
<text x="136.6" y="249.6" font-size="8.6" text-anchor="middle" fill="#303030" stroke="#303030">7 mg</text>
<text x="185.4" y="249.6" font-size="8.6" text-anchor="middle" fill="#303030" stroke="#303030">14 mg</text>
<text x="233.4" y="249.6" font-size="8.6" text-anchor="middle" fill="#303030" stroke="#303030">Placebo</text>
<text x="137.1" y="236.6" font-size="8.75" text-anchor="middle" fill="#303030" stroke="#303030">Oral semaglutide</text>
<text x="88.5" y="276.1" font-size="7.6" text-anchor="middle" fill="#fff" stroke="#fff">−0.9%</text>
<text x="88.5" y="285.2" font-size="7.6" text-anchor="middle" fill="#fff" stroke="#fff">(−10</text>
<text x="88.5" y="294.4" font-size="7.6" text-anchor="middle" fill="#fff" stroke="#fff">mmol/mol)</text>
<text x="136.6" y="290.9" font-size="7.6" text-anchor="middle" fill="#fff" stroke="#fff">−1.2%</text>
<text x="136.6" y="300.1" font-size="7.6" text-anchor="middle" fill="#fff" stroke="#fff">(−13</text>
<text x="136.6" y="309.3" font-size="7.6" text-anchor="middle" fill="#fff" stroke="#fff">mmol/mol)</text>
<text x="185.4" y="300.8" font-size="7.6" text-anchor="middle" fill="#fff" stroke="#fff">−1.4%</text>
<text x="185.4" y="310.0" font-size="7.6" text-anchor="middle" fill="#fff" stroke="#fff">(−15</text>
<text x="185.4" y="319.2" font-size="7.6" text-anchor="middle" fill="#fff" stroke="#fff">mmol/mol)</text>
<text x="233.4" y="268.7" font-size="7.6" text-anchor="middle" fill="#444" stroke="#444">−0.3%</text>
<text x="233.4" y="277.9" font-size="7.6" text-anchor="middle" fill="#444" stroke="#444">(−3</text>
<text x="233.4" y="287.1" font-size="7.6" text-anchor="middle" fill="#444" stroke="#444">mmol/mol)</text>
<line x1="324.4" y1="303.5" x2="518.2" y2="303.5" stroke="#dcdcdc" stroke-width="1"/>
<line x1="324.4" y1="352.5" x2="518.2" y2="352.5" stroke="#dcdcdc" stroke-width="1"/>
<rect x="329.3" y="253.8" width="37.5" height="39.6" fill="#84b3d0"/>
<rect x="377.3" y="253.8" width="37.5" height="64.4" fill="#4e97dc"/>
<rect x="426.0" y="253.8" width="37.8" height="74.2" fill="#252b5c"/>
<rect x="473.9" y="253.8" width="38.0" height="4.0" fill="#aeaaa1"/>
<line x1="324.5" y1="253.3" x2="324.5" y2="353.3" stroke="#6e6e6e" stroke-width="1"/>
<line x1="321.9" y1="253.5" x2="518.2" y2="253.5" stroke="#6e6e6e" stroke-width="1"/>
<line x1="321.9" y1="253.8" x2="324.4" y2="253.8" stroke="#6e6e6e" stroke-width="0.8"/>
<text x="319.6" y="256.5" font-size="8.6" text-anchor="end" fill="#303030" stroke="#303030">0</text>
<line x1="321.9" y1="303.3" x2="324.4" y2="303.3" stroke="#6e6e6e" stroke-width="0.8"/>
<text x="319.6" y="306.0" font-size="8.6" text-anchor="end" fill="#303030" stroke="#303030">−1</text>
<line x1="321.9" y1="352.8" x2="324.4" y2="352.8" stroke="#6e6e6e" stroke-width="0.8"/>
<text x="319.6" y="355.5" font-size="8.6" text-anchor="end" fill="#303030" stroke="#303030">−2</text>
<line x1="372.9" y1="252.0" x2="372.9" y2="253.8" stroke="#6e6e6e" stroke-width="0.7"/>
<line x1="421.3" y1="252.0" x2="421.3" y2="253.8" stroke="#6e6e6e" stroke-width="0.7"/>
<line x1="469.8" y1="252.0" x2="469.8" y2="253.8" stroke="#6e6e6e" stroke-width="0.7"/>
<line x1="518.2" y1="252.0" x2="518.2" y2="253.8" stroke="#6e6e6e" stroke-width="0.7"/>
<text x="348.1" y="249.6" font-size="8.6" text-anchor="middle" fill="#303030" stroke="#303030">3 mg</text>
<text x="396.1" y="249.6" font-size="8.6" text-anchor="middle" fill="#303030" stroke="#303030">7 mg</text>
<text x="444.9" y="249.6" font-size="8.6" text-anchor="middle" fill="#303030" stroke="#303030">14 mg</text>
<text x="492.9" y="249.6" font-size="8.6" text-anchor="middle" fill="#303030" stroke="#303030">Placebo</text>
<text x="396.6" y="236.6" font-size="8.75" text-anchor="middle" fill="#303030" stroke="#303030">Oral semaglutide</text>
<text x="348.1" y="271.1" font-size="7.6" text-anchor="middle" fill="#fff" stroke="#fff">−0.8%</text>
<text x="348.1" y="280.3" font-size="7.6" text-anchor="middle" fill="#fff" stroke="#fff">(−8</text>
<text x="348.1" y="289.5" font-size="7.6" text-anchor="middle" fill="#fff" stroke="#fff">mmol/mol)</text>
<text x="396.1" y="295.9" font-size="7.6" text-anchor="middle" fill="#fff" stroke="#fff">−1.3%</text>
<text x="396.1" y="305.1" font-size="7.6" text-anchor="middle" fill="#fff" stroke="#fff">(−14</text>
<text x="396.1" y="314.2" font-size="7.6" text-anchor="middle" fill="#fff" stroke="#fff">mmol/mol)</text>
<text x="444.9" y="305.8" font-size="7.6" text-anchor="middle" fill="#fff" stroke="#fff">−1.5%</text>
<text x="444.9" y="314.9" font-size="7.6" text-anchor="middle" fill="#fff" stroke="#fff">(−16</text>
<text x="444.9" y="324.1" font-size="7.6" text-anchor="middle" fill="#fff" stroke="#fff">mmol/mol)</text>
<text x="492.9" y="265.8" font-size="7.6" text-anchor="middle" fill="#444" stroke="#444">−0.1%</text>
<text x="492.9" y="275.0" font-size="7.6" text-anchor="middle" fill="#444" stroke="#444">(−1</text>
<text x="492.9" y="284.2" font-size="7.6" text-anchor="middle" fill="#444" stroke="#444">mmol/mol)</text>
<text transform="translate(26.4,302.6) rotate(-90)" font-size="8.8" text-anchor="middle" fill="#303030" stroke="#303030">Change from baseline</text>
<text transform="translate(38.4,303.0) rotate(-90)" font-size="8.8" text-anchor="middle" fill="#303030" stroke="#303030">in HbA<tspan font-size="5" dy="1.6">1c</tspan><tspan dy="-1.6"> </tspan>(%)</text>
<text transform="translate(286.6,302.6) rotate(-90)" font-size="8.8" text-anchor="middle" fill="#303030" stroke="#303030">Change from baseline</text>
<text transform="translate(298.6,303.0) rotate(-90)" font-size="8.8" text-anchor="middle" fill="#303030" stroke="#303030">in HbA<tspan font-size="5" dy="1.6">1c</tspan><tspan dy="-1.6"> </tspan>(%)</text>
<text x="19.5" y="370.2" font-size="7.62" text-anchor="start" fill="#303030" stroke="#303030">ETD [95%CI]: %; mmol/mol; <tspan font-style="italic">P</tspan> value</text>
<text x="19.5" y="379.2" font-size="7.62" text-anchor="start" fill="#303030" stroke="#303030">Oral semaglutide 3 mg vs placebo:</text>
<text x="29.8" y="388.3" font-size="7.62" text-anchor="start" fill="#303030" stroke="#303030">−0.6 [−0.8 to −0.4]%; −6 [−9 to −4] mmol/mol; <tspan font-style="italic">P</tspan>&lt;0.001</text>
<text x="19.5" y="397.3" font-size="7.62" text-anchor="start" fill="#303030" stroke="#303030">Oral semaglutide 7 mg vs placebo:</text>
<text x="29.8" y="406.3" font-size="7.62" text-anchor="start" fill="#303030" stroke="#303030">−0.9 [−1.1 to −0.6]%; −9 [−12 to −7] mmol/mol; <tspan font-style="italic">P</tspan>&lt;0.001</text>
<text x="19.5" y="415.3" font-size="7.62" text-anchor="start" fill="#303030" stroke="#303030">Oral semaglutide 14 mg vs placebo:</text>
<text x="29.8" y="424.4" font-size="7.62" text-anchor="start" fill="#303030" stroke="#303030">−1.1 [−1.3 to −0.9]%; −12 [−15 to −9] mmol/mol; <tspan font-style="italic">P</tspan>&lt;0.001</text>
<text x="281.5" y="370.2" font-size="7.62" text-anchor="start" fill="#303030" stroke="#303030">ETD [95%CI]: %; mmol/mol; <tspan font-style="italic">P</tspan> value</text>
<text x="281.5" y="379.2" font-size="7.62" text-anchor="start" fill="#303030" stroke="#303030">Oral semaglutide 3 mg vs placebo:</text>
<text x="291.8" y="388.3" font-size="7.62" text-anchor="start" fill="#303030" stroke="#303030">−0.7 [−0.9 to −0.5]%; −7 [−10 to −5] mmol/mol; <tspan font-style="italic">P</tspan>&lt;0.001</text>
<text x="281.5" y="397.3" font-size="7.62" text-anchor="start" fill="#303030" stroke="#303030">Oral semaglutide 7 mg vs placebo:</text>
<text x="291.8" y="406.3" font-size="7.62" text-anchor="start" fill="#303030" stroke="#303030">−1.2 [−1.5 to −1.0]%; −14 [−16 to −11] mmol/mol; <tspan font-style="italic">P</tspan>&lt;0.001</text>
<text x="281.5" y="415.3" font-size="7.62" text-anchor="start" fill="#303030" stroke="#303030">Oral semaglutide 14 mg vs placebo:</text>
<text x="291.8" y="424.4" font-size="7.62" text-anchor="start" fill="#303030" stroke="#303030">−1.4 [−1.7 to −1.2]%; −16 [−18 to −13] mmol/mol; <tspan font-style="italic">P</tspan>&lt;0.001</text>
<line x1="94.2" y1="479.5" x2="237" y2="479.5" stroke="#dcdcdc" stroke-width="1"/>
<line x1="94.2" y1="498.5" x2="237" y2="498.5" stroke="#dcdcdc" stroke-width="1"/>
<line x1="94.2" y1="518.5" x2="237" y2="518.5" stroke="#dcdcdc" stroke-width="1"/>
<line x1="94.2" y1="538.5" x2="237" y2="538.5" stroke="#dcdcdc" stroke-width="1"/>
<line x1="94.2" y1="459.5" x2="237" y2="459.5" stroke="#3a3a3a" stroke-width="0.85" stroke-dasharray="2.6 1.9"/>
<line x1="94.5" y1="459.0" x2="94.5" y2="560.7" stroke="#6e6e6e" stroke-width="1"/>
<line x1="91.7" y1="558.5" x2="237" y2="558.5" stroke="#6e6e6e" stroke-width="1"/>
<line x1="91.7" y1="459.5" x2="94.2" y2="459.5" stroke="#6e6e6e" stroke-width="0.8"/>
<text x="89.4" y="463.0" font-size="8.6" text-anchor="end" fill="#303030" stroke="#303030">0</text>
<line x1="91.7" y1="479.2" x2="94.2" y2="479.2" stroke="#6e6e6e" stroke-width="0.8"/>
<text x="89.4" y="482.7" font-size="8.6" text-anchor="end" fill="#303030" stroke="#303030">−1</text>
<line x1="91.7" y1="499.0" x2="94.2" y2="499.0" stroke="#6e6e6e" stroke-width="0.8"/>
<text x="89.4" y="502.5" font-size="8.6" text-anchor="end" fill="#303030" stroke="#303030">−2</text>
<line x1="91.7" y1="518.7" x2="94.2" y2="518.7" stroke="#6e6e6e" stroke-width="0.8"/>
<text x="89.4" y="522.2" font-size="8.6" text-anchor="end" fill="#303030" stroke="#303030">−3</text>
<line x1="91.7" y1="538.5" x2="94.2" y2="538.5" stroke="#6e6e6e" stroke-width="0.8"/>
<text x="89.4" y="542.0" font-size="8.6" text-anchor="end" fill="#303030" stroke="#303030">−4</text>
<line x1="91.7" y1="558.2" x2="94.2" y2="558.2" stroke="#6e6e6e" stroke-width="0.8"/>
<text x="89.4" y="561.7" font-size="8.6" text-anchor="end" fill="#303030" stroke="#303030">−5</text>
<line x1="94.2" y1="558.2" x2="94.2" y2="560.7" stroke="#6e6e6e" stroke-width="0.8"/>
<text x="94.2" y="568.6" font-size="8.6" text-anchor="middle" fill="#303030" stroke="#303030">0</text>
<line x1="116" y1="558.2" x2="116" y2="560.7" stroke="#6e6e6e" stroke-width="0.8"/>
<text x="116.0" y="568.6" font-size="8.6" text-anchor="middle" fill="#303030" stroke="#303030">4</text>
<line x1="137.5" y1="558.2" x2="137.5" y2="560.7" stroke="#6e6e6e" stroke-width="0.8"/>
<text x="137.5" y="568.6" font-size="8.6" text-anchor="middle" fill="#303030" stroke="#303030">8</text>
<line x1="169.2" y1="558.2" x2="169.2" y2="560.7" stroke="#6e6e6e" stroke-width="0.8"/>
<text x="169.2" y="568.6" font-size="8.6" text-anchor="middle" fill="#303030" stroke="#303030">14</text>
<line x1="200.3" y1="558.2" x2="200.3" y2="560.7" stroke="#6e6e6e" stroke-width="0.8"/>
<text x="200.3" y="568.6" font-size="8.6" text-anchor="middle" fill="#303030" stroke="#303030">20</text>
<line x1="231.5" y1="558.2" x2="231.5" y2="560.7" stroke="#6e6e6e" stroke-width="0.8"/>
<text x="231.5" y="568.6" font-size="8.6" text-anchor="middle" fill="#303030" stroke="#303030">26</text>
<polyline points="94.2,459.5 116.0,465.6 137.5,471.3 169.2,478.8 200.3,479.2 231.5,486.5" fill="none" stroke="#a9a9a9" stroke-width="1.1" stroke-linejoin="round"/>
<circle cx="94.2" cy="459.5" r="1.5" fill="#fff" stroke="#a9a9a9" stroke-width="0.7"/>
<path d="M116.0 463.4V467.8M114.5 463.4h3M114.5 467.8h3" stroke="#a9a9a9" stroke-width="0.7" fill="none"/>
<circle cx="116.0" cy="465.6" r="1.5" fill="#fff" stroke="#a9a9a9" stroke-width="0.7"/>
<path d="M137.5 468.2V474.5M136.0 468.2h3M136.0 474.5h3" stroke="#a9a9a9" stroke-width="0.7" fill="none"/>
<circle cx="137.5" cy="471.3" r="1.5" fill="#fff" stroke="#a9a9a9" stroke-width="0.7"/>
<path d="M169.2 474.9V482.8M167.7 474.9h3M167.7 482.8h3" stroke="#a9a9a9" stroke-width="0.7" fill="none"/>
<circle cx="169.2" cy="478.8" r="1.5" fill="#fff" stroke="#a9a9a9" stroke-width="0.7"/>
<path d="M200.3 475.3V483.2M198.8 475.3h3M198.8 483.2h3" stroke="#a9a9a9" stroke-width="0.7" fill="none"/>
<circle cx="200.3" cy="479.2" r="1.5" fill="#fff" stroke="#a9a9a9" stroke-width="0.7"/>
<path d="M231.5 482.2V490.9M230.0 482.2h3M230.0 490.9h3" stroke="#a9a9a9" stroke-width="0.7" fill="none"/>
<circle cx="231.5" cy="486.5" r="1.5" fill="#fff" stroke="#a9a9a9" stroke-width="0.7"/>
<polyline points="94.2,459.5 116.0,470.0 137.5,477.3 169.2,484.2 200.3,485.4 231.5,490.7" fill="none" stroke="#83aabd" stroke-width="1.1" stroke-linejoin="round"/>
<rect x="93.0" y="458.3" width="2.4" height="2.4" fill="#83aabd"/>
<path d="M116.0 467.6V472.3M114.5 467.6h3M114.5 472.3h3" stroke="#83aabd" stroke-width="0.7" fill="none"/>
<rect x="114.8" y="468.8" width="2.4" height="2.4" fill="#83aabd"/>
<path d="M137.5 473.7V480.8M136.0 473.7h3M136.0 480.8h3" stroke="#83aabd" stroke-width="0.7" fill="none"/>
<rect x="136.3" y="476.1" width="2.4" height="2.4" fill="#83aabd"/>
<path d="M169.2 479.4V488.9M167.7 479.4h3M167.7 488.9h3" stroke="#83aabd" stroke-width="0.7" fill="none"/>
<rect x="168.0" y="483.0" width="2.4" height="2.4" fill="#83aabd"/>
<path d="M200.3 480.2V490.5M198.8 480.2h3M198.8 490.5h3" stroke="#83aabd" stroke-width="0.7" fill="none"/>
<rect x="199.1" y="484.2" width="2.4" height="2.4" fill="#83aabd"/>
<path d="M231.5 485.4V496.0M230.0 485.4h3M230.0 496.0h3" stroke="#83aabd" stroke-width="0.7" fill="none"/>
<rect x="230.3" y="489.5" width="2.4" height="2.4" fill="#83aabd"/>
<polyline points="94.2,459.5 116.0,471.7 137.5,487.1 169.2,498.0 200.3,504.9 231.5,511.2" fill="none" stroke="#578fc9" stroke-width="1.1" stroke-linejoin="round"/>
<path d="M94.2 457.9l1.6 2.9h-3.2z" fill="#578fc9"/>
<path d="M116.0 469.2V474.3M114.5 469.2h3M114.5 474.3h3" stroke="#578fc9" stroke-width="0.7" fill="none"/>
<path d="M116.0 470.1l1.6 2.9h-3.2z" fill="#578fc9"/>
<path d="M137.5 483.2V491.1M136.0 483.2h3M136.0 491.1h3" stroke="#578fc9" stroke-width="0.7" fill="none"/>
<path d="M137.5 485.5l1.6 2.9h-3.2z" fill="#578fc9"/>
<path d="M169.2 492.7V503.3M167.7 492.7h3M167.7 503.3h3" stroke="#578fc9" stroke-width="0.7" fill="none"/>
<path d="M169.2 496.4l1.6 2.9h-3.2z" fill="#578fc9"/>
<path d="M200.3 499.0V510.8M198.8 499.0h3M198.8 510.8h3" stroke="#578fc9" stroke-width="0.7" fill="none"/>
<path d="M200.3 503.3l1.6 2.9h-3.2z" fill="#578fc9"/>
<path d="M231.5 504.7V517.7M230.0 504.7h3M230.0 517.7h3" stroke="#578fc9" stroke-width="0.7" fill="none"/>
<path d="M231.5 509.6l1.6 2.9h-3.2z" fill="#578fc9"/>
<polyline points="94.2,459.5 116.0,476.1 137.5,488.7 169.2,513.0 200.3,531.9 231.5,539.2" fill="none" stroke="#15172e" stroke-width="1.35" stroke-linejoin="round"/>
<circle cx="94.2" cy="459.5" r="1.4" fill="#15172e"/>
<path d="M116.0 473.3V478.8M114.5 473.3h3M114.5 478.8h3" stroke="#15172e" stroke-width="0.7" fill="none"/>
<circle cx="116.0" cy="476.1" r="1.4" fill="#15172e"/>
<path d="M137.5 484.8V492.7M136.0 484.8h3M136.0 492.7h3" stroke="#15172e" stroke-width="0.7" fill="none"/>
<circle cx="137.5" cy="488.7" r="1.4" fill="#15172e"/>
<path d="M169.2 507.5V518.5M167.7 507.5h3M167.7 518.5h3" stroke="#15172e" stroke-width="0.7" fill="none"/>
<circle cx="169.2" cy="513.0" r="1.4" fill="#15172e"/>
<path d="M200.3 525.4V538.5M198.8 525.4h3M198.8 538.5h3" stroke="#15172e" stroke-width="0.7" fill="none"/>
<circle cx="200.3" cy="531.9" r="1.4" fill="#15172e"/>
<path d="M231.5 532.1V546.4M230.0 532.1h3M230.0 546.4h3" stroke="#15172e" stroke-width="0.7" fill="none"/>
<circle cx="231.5" cy="539.2" r="1.4" fill="#15172e"/>
<line x1="355.4" y1="479.5" x2="498" y2="479.5" stroke="#dcdcdc" stroke-width="1"/>
<line x1="355.4" y1="498.5" x2="498" y2="498.5" stroke="#dcdcdc" stroke-width="1"/>
<line x1="355.4" y1="518.5" x2="498" y2="518.5" stroke="#dcdcdc" stroke-width="1"/>
<line x1="355.4" y1="538.5" x2="498" y2="538.5" stroke="#dcdcdc" stroke-width="1"/>
<line x1="355.4" y1="459.5" x2="498" y2="459.5" stroke="#3a3a3a" stroke-width="0.85" stroke-dasharray="2.6 1.9"/>
<line x1="355.5" y1="459.0" x2="355.5" y2="560.7" stroke="#6e6e6e" stroke-width="1"/>
<line x1="352.9" y1="558.5" x2="498" y2="558.5" stroke="#6e6e6e" stroke-width="1"/>
<line x1="352.9" y1="459.5" x2="355.4" y2="459.5" stroke="#6e6e6e" stroke-width="0.8"/>
<text x="350.6" y="463.0" font-size="8.6" text-anchor="end" fill="#303030" stroke="#303030">0</text>
<line x1="352.9" y1="479.2" x2="355.4" y2="479.2" stroke="#6e6e6e" stroke-width="0.8"/>
<text x="350.6" y="482.7" font-size="8.6" text-anchor="end" fill="#303030" stroke="#303030">−1</text>
<line x1="352.9" y1="499.0" x2="355.4" y2="499.0" stroke="#6e6e6e" stroke-width="0.8"/>
<text x="350.6" y="502.5" font-size="8.6" text-anchor="end" fill="#303030" stroke="#303030">−2</text>
<line x1="352.9" y1="518.7" x2="355.4" y2="518.7" stroke="#6e6e6e" stroke-width="0.8"/>
<text x="350.6" y="522.2" font-size="8.6" text-anchor="end" fill="#303030" stroke="#303030">−3</text>
<line x1="352.9" y1="538.5" x2="355.4" y2="538.5" stroke="#6e6e6e" stroke-width="0.8"/>
<text x="350.6" y="542.0" font-size="8.6" text-anchor="end" fill="#303030" stroke="#303030">−4</text>
<line x1="352.9" y1="558.2" x2="355.4" y2="558.2" stroke="#6e6e6e" stroke-width="0.8"/>
<text x="350.6" y="561.7" font-size="8.6" text-anchor="end" fill="#303030" stroke="#303030">−5</text>
<line x1="355.4" y1="558.2" x2="355.4" y2="560.7" stroke="#6e6e6e" stroke-width="0.8"/>
<text x="355.4" y="568.6" font-size="8.6" text-anchor="middle" fill="#303030" stroke="#303030">0</text>
<line x1="377" y1="558.2" x2="377" y2="560.7" stroke="#6e6e6e" stroke-width="0.8"/>
<text x="377.0" y="568.6" font-size="8.6" text-anchor="middle" fill="#303030" stroke="#303030">4</text>
<line x1="398.8" y1="558.2" x2="398.8" y2="560.7" stroke="#6e6e6e" stroke-width="0.8"/>
<text x="398.8" y="568.6" font-size="8.6" text-anchor="middle" fill="#303030" stroke="#303030">8</text>
<line x1="430.3" y1="558.2" x2="430.3" y2="560.7" stroke="#6e6e6e" stroke-width="0.8"/>
<text x="430.3" y="568.6" font-size="8.6" text-anchor="middle" fill="#303030" stroke="#303030">14</text>
<line x1="461.2" y1="558.2" x2="461.2" y2="560.7" stroke="#6e6e6e" stroke-width="0.8"/>
<text x="461.2" y="568.6" font-size="8.6" text-anchor="middle" fill="#303030" stroke="#303030">20</text>
<line x1="492.3" y1="558.2" x2="492.3" y2="560.7" stroke="#6e6e6e" stroke-width="0.8"/>
<text x="492.3" y="568.6" font-size="8.6" text-anchor="middle" fill="#303030" stroke="#303030">26</text>
<polyline points="355.4,459.5 377.0,465.0 398.8,472.1 430.3,479.2 461.2,481.2 492.3,490.1" fill="none" stroke="#a9a9a9" stroke-width="1.1" stroke-linejoin="round"/>
<circle cx="355.4" cy="459.5" r="1.5" fill="#fff" stroke="#a9a9a9" stroke-width="0.7"/>
<path d="M377.0 462.9V467.2M375.5 462.9h3M375.5 467.2h3" stroke="#a9a9a9" stroke-width="0.7" fill="none"/>
<circle cx="377.0" cy="465.0" r="1.5" fill="#fff" stroke="#a9a9a9" stroke-width="0.7"/>
<path d="M398.8 469.0V475.3M397.3 469.0h3M397.3 475.3h3" stroke="#a9a9a9" stroke-width="0.7" fill="none"/>
<circle cx="398.8" cy="472.1" r="1.5" fill="#fff" stroke="#a9a9a9" stroke-width="0.7"/>
<path d="M430.3 475.3V483.2M428.8 475.3h3M428.8 483.2h3" stroke="#a9a9a9" stroke-width="0.7" fill="none"/>
<circle cx="430.3" cy="479.2" r="1.5" fill="#fff" stroke="#a9a9a9" stroke-width="0.7"/>
<path d="M461.2 476.9V485.6M459.7 476.9h3M459.7 485.6h3" stroke="#a9a9a9" stroke-width="0.7" fill="none"/>
<circle cx="461.2" cy="481.2" r="1.5" fill="#fff" stroke="#a9a9a9" stroke-width="0.7"/>
<path d="M492.3 485.2V495.0M490.8 485.2h3M490.8 495.0h3" stroke="#a9a9a9" stroke-width="0.7" fill="none"/>
<circle cx="492.3" cy="490.1" r="1.5" fill="#fff" stroke="#a9a9a9" stroke-width="0.7"/>
<polyline points="355.4,459.5 377.0,470.8 398.8,478.6 430.3,486.3 461.2,487.7 492.3,495.2" fill="none" stroke="#83aabd" stroke-width="1.1" stroke-linejoin="round"/>
<rect x="354.2" y="458.3" width="2.4" height="2.4" fill="#83aabd"/>
<path d="M377.0 468.4V473.1M375.5 468.4h3M375.5 473.1h3" stroke="#83aabd" stroke-width="0.7" fill="none"/>
<rect x="375.8" y="469.6" width="2.4" height="2.4" fill="#83aabd"/>
<path d="M398.8 475.1V482.2M397.3 475.1h3M397.3 482.2h3" stroke="#83aabd" stroke-width="0.7" fill="none"/>
<rect x="397.6" y="477.4" width="2.4" height="2.4" fill="#83aabd"/>
<path d="M430.3 481.6V491.1M428.8 481.6h3M428.8 491.1h3" stroke="#83aabd" stroke-width="0.7" fill="none"/>
<rect x="429.1" y="485.1" width="2.4" height="2.4" fill="#83aabd"/>
<path d="M461.2 482.4V493.1M459.7 482.4h3M459.7 493.1h3" stroke="#83aabd" stroke-width="0.7" fill="none"/>
<rect x="460.0" y="486.5" width="2.4" height="2.4" fill="#83aabd"/>
<path d="M492.3 489.5V501.0M490.8 489.5h3M490.8 501.0h3" stroke="#83aabd" stroke-width="0.7" fill="none"/>
<rect x="491.1" y="494.0" width="2.4" height="2.4" fill="#83aabd"/>
<polyline points="355.4,459.5 377.0,472.3 398.8,487.1 430.3,499.6 461.2,508.7 492.3,516.0" fill="none" stroke="#578fc9" stroke-width="1.1" stroke-linejoin="round"/>
<path d="M355.4 457.9l1.6 2.9h-3.2z" fill="#578fc9"/>
<path d="M377.0 469.8V474.9M375.5 469.8h3M375.5 474.9h3" stroke="#578fc9" stroke-width="0.7" fill="none"/>
<path d="M377.0 470.7l1.6 2.9h-3.2z" fill="#578fc9"/>
<path d="M398.8 483.2V491.1M397.3 483.2h3M397.3 491.1h3" stroke="#578fc9" stroke-width="0.7" fill="none"/>
<path d="M398.8 485.5l1.6 2.9h-3.2z" fill="#578fc9"/>
<path d="M430.3 494.2V504.9M428.8 494.2h3M428.8 504.9h3" stroke="#578fc9" stroke-width="0.7" fill="none"/>
<path d="M430.3 498.0l1.6 2.9h-3.2z" fill="#578fc9"/>
<path d="M461.2 502.5V514.8M459.7 502.5h3M459.7 514.8h3" stroke="#578fc9" stroke-width="0.7" fill="none"/>
<path d="M461.2 507.1l1.6 2.9h-3.2z" fill="#578fc9"/>
<path d="M492.3 509.0V522.9M490.8 509.0h3M490.8 522.9h3" stroke="#578fc9" stroke-width="0.7" fill="none"/>
<path d="M492.3 514.4l1.6 2.9h-3.2z" fill="#578fc9"/>
<polyline points="355.4,459.5 377.0,475.9 398.8,487.7 430.3,516.4 461.2,533.9 492.3,544.4" fill="none" stroke="#15172e" stroke-width="1.35" stroke-linejoin="round"/>
<circle cx="355.4" cy="459.5" r="1.4" fill="#15172e"/>
<path d="M377.0 473.1V478.6M375.5 473.1h3M375.5 478.6h3" stroke="#15172e" stroke-width="0.7" fill="none"/>
<circle cx="377.0" cy="475.9" r="1.4" fill="#15172e"/>
<path d="M398.8 483.8V491.7M397.3 483.8h3M397.3 491.7h3" stroke="#15172e" stroke-width="0.7" fill="none"/>
<circle cx="398.8" cy="487.7" r="1.4" fill="#15172e"/>
<path d="M430.3 510.8V521.9M428.8 510.8h3M428.8 521.9h3" stroke="#15172e" stroke-width="0.7" fill="none"/>
<circle cx="430.3" cy="516.4" r="1.4" fill="#15172e"/>
<path d="M461.2 526.8V541.0M459.7 526.8h3M459.7 541.0h3" stroke="#15172e" stroke-width="0.7" fill="none"/>
<circle cx="461.2" cy="533.9" r="1.4" fill="#15172e"/>
<path d="M492.3 537.3V551.5M490.8 537.3h3M490.8 551.5h3" stroke="#15172e" stroke-width="0.7" fill="none"/>
<circle cx="492.3" cy="544.4" r="1.4" fill="#15172e"/>
<text x="94.8" y="445.6" font-size="8.85" text-anchor="start" fill="#303030" stroke="#303030">Mean baseline: 88.1 kg</text>
<text transform="translate(59.6,508.4) rotate(-90)" font-size="8.8" text-anchor="middle" fill="#303030" stroke="#303030">Change from baseline</text>
<text transform="translate(70.6,508.0) rotate(-90)" font-size="8.8" text-anchor="middle" fill="#303030" stroke="#303030">in body weight (kg)</text>
<text x="160.6" y="582.0" font-size="8.6" text-anchor="middle" fill="#303030" stroke="#303030">Time since randomization (weeks)</text>
<text x="355.0" y="445.6" font-size="8.85" text-anchor="start" fill="#303030" stroke="#303030">Mean baseline: 88.1 kg</text>
<text transform="translate(320.6,508.4) rotate(-90)" font-size="8.8" text-anchor="middle" fill="#303030" stroke="#303030">Change from baseline</text>
<text transform="translate(331.6,508.0) rotate(-90)" font-size="8.8" text-anchor="middle" fill="#303030" stroke="#303030">in body weight (kg)</text>
<text x="421.6" y="582.0" font-size="8.6" text-anchor="middle" fill="#303030" stroke="#303030">Time since randomization (weeks)</text>
<text x="13.0" y="589.5" font-size="6.6" text-anchor="start" fill="#303030" stroke="#303030">Patient numbers</text>
<line x1="1.4" y1="597.0" x2="10.6" y2="597.0" stroke="#83aabd" stroke-width="1"/>
<rect x="4.8" y="595.8" width="2.4" height="2.4" fill="#83aabd"/>
<text x="13.0" y="598.9" font-size="6.6" text-anchor="start" fill="#303030" stroke="#303030">Oral semaglutide 3 mg</text>
<text x="94.2" y="599.7" font-size="6.6" text-anchor="middle" fill="#303030" stroke="#303030">175</text>
<text x="116.0" y="599.7" font-size="6.6" text-anchor="middle" fill="#303030" stroke="#303030">172</text>
<text x="137.5" y="599.7" font-size="6.6" text-anchor="middle" fill="#303030" stroke="#303030">171</text>
<text x="169.2" y="599.7" font-size="6.6" text-anchor="middle" fill="#303030" stroke="#303030">171</text>
<text x="200.3" y="599.7" font-size="6.6" text-anchor="middle" fill="#303030" stroke="#303030">166</text>
<text x="231.5" y="599.7" font-size="6.6" text-anchor="middle" fill="#303030" stroke="#303030">168</text>
<line x1="1.4" y1="604.9" x2="10.6" y2="604.9" stroke="#578fc9" stroke-width="1"/>
<path d="M6.0 603.3l1.6 2.9h-3.2z" fill="#578fc9"/>
<text x="13.0" y="606.8" font-size="6.6" text-anchor="start" fill="#303030" stroke="#303030">Oral semaglutide 7 mg</text>
<text x="94.2" y="607.6" font-size="6.6" text-anchor="middle" fill="#303030" stroke="#303030">175</text>
<text x="116.0" y="607.6" font-size="6.6" text-anchor="middle" fill="#303030" stroke="#303030">170</text>
<text x="137.5" y="607.6" font-size="6.6" text-anchor="middle" fill="#303030" stroke="#303030">165</text>
<text x="169.2" y="607.6" font-size="6.6" text-anchor="middle" fill="#303030" stroke="#303030">161</text>
<text x="200.3" y="607.6" font-size="6.6" text-anchor="middle" fill="#303030" stroke="#303030">161</text>
<text x="231.5" y="607.6" font-size="6.6" text-anchor="middle" fill="#303030" stroke="#303030">160</text>
<line x1="1.4" y1="612.7" x2="10.6" y2="612.7" stroke="#15172e" stroke-width="1"/>
<circle cx="6.0" cy="612.7" r="1.4" fill="#15172e"/>
<text x="13.0" y="614.6" font-size="6.6" text-anchor="start" fill="#303030" stroke="#303030">Oral semaglutide 14 mg</text>
<text x="94.2" y="615.4" font-size="6.6" text-anchor="middle" fill="#303030" stroke="#303030">175</text>
<text x="116.0" y="615.4" font-size="6.6" text-anchor="middle" fill="#303030" stroke="#303030">170</text>
<text x="137.5" y="615.4" font-size="6.6" text-anchor="middle" fill="#303030" stroke="#303030">168</text>
<text x="169.2" y="615.4" font-size="6.6" text-anchor="middle" fill="#303030" stroke="#303030">162</text>
<text x="200.3" y="615.4" font-size="6.6" text-anchor="middle" fill="#303030" stroke="#303030">160</text>
<text x="231.5" y="615.4" font-size="6.6" text-anchor="middle" fill="#303030" stroke="#303030">160</text>
<line x1="1.4" y1="620.7" x2="10.6" y2="620.7" stroke="#a9a9a9" stroke-width="1"/>
<circle cx="6.0" cy="620.7" r="1.4" fill="#fff" stroke="#a9a9a9" stroke-width="0.7"/>
<text x="13.0" y="622.6" font-size="6.6" text-anchor="start" fill="#303030" stroke="#303030">Placebo</text>
<text x="94.2" y="623.4" font-size="6.6" text-anchor="middle" fill="#303030" stroke="#303030">178</text>
<text x="116.0" y="623.4" font-size="6.6" text-anchor="middle" fill="#303030" stroke="#303030">175</text>
<text x="137.5" y="623.4" font-size="6.6" text-anchor="middle" fill="#303030" stroke="#303030">172</text>
<text x="169.2" y="623.4" font-size="6.6" text-anchor="middle" fill="#303030" stroke="#303030">173</text>
<text x="200.3" y="623.4" font-size="6.6" text-anchor="middle" fill="#303030" stroke="#303030">167</text>
<text x="231.5" y="623.4" font-size="6.6" text-anchor="middle" fill="#303030" stroke="#303030">168</text>
<text x="271.4" y="589.5" font-size="6.6" text-anchor="start" fill="#303030" stroke="#303030">Patient numbers</text>
<line x1="259.79999999999995" y1="597.0" x2="269.0" y2="597.0" stroke="#83aabd" stroke-width="1"/>
<rect x="263.2" y="595.8" width="2.4" height="2.4" fill="#83aabd"/>
<text x="271.4" y="598.9" font-size="6.6" text-anchor="start" fill="#303030" stroke="#303030">Oral semaglutide 3 mg</text>
<text x="355.4" y="599.7" font-size="6.6" text-anchor="middle" fill="#303030" stroke="#303030">175</text>
<text x="377.0" y="599.7" font-size="6.6" text-anchor="middle" fill="#303030" stroke="#303030">169</text>
<text x="398.8" y="599.7" font-size="6.6" text-anchor="middle" fill="#303030" stroke="#303030">165</text>
<text x="430.3" y="599.7" font-size="6.6" text-anchor="middle" fill="#303030" stroke="#303030">158</text>
<text x="461.2" y="599.7" font-size="6.6" text-anchor="middle" fill="#303030" stroke="#303030">152</text>
<text x="492.3" y="599.7" font-size="6.6" text-anchor="middle" fill="#303030" stroke="#303030">150</text>
<line x1="259.79999999999995" y1="604.9" x2="269.0" y2="604.9" stroke="#578fc9" stroke-width="1"/>
<path d="M264.4 603.3l1.6 2.9h-3.2z" fill="#578fc9"/>
<text x="271.4" y="606.8" font-size="6.6" text-anchor="start" fill="#303030" stroke="#303030">Oral semaglutide 7 mg</text>
<text x="355.4" y="607.6" font-size="6.6" text-anchor="middle" fill="#303030" stroke="#303030">175</text>
<text x="377.0" y="607.6" font-size="6.6" text-anchor="middle" fill="#303030" stroke="#303030">170</text>
<text x="398.8" y="607.6" font-size="6.6" text-anchor="middle" fill="#303030" stroke="#303030">163</text>
<text x="430.3" y="607.6" font-size="6.6" text-anchor="middle" fill="#303030" stroke="#303030">157</text>
<text x="461.2" y="607.6" font-size="6.6" text-anchor="middle" fill="#303030" stroke="#303030">155</text>
<text x="492.3" y="607.6" font-size="6.6" text-anchor="middle" fill="#303030" stroke="#303030">150</text>
<line x1="259.79999999999995" y1="612.7" x2="269.0" y2="612.7" stroke="#15172e" stroke-width="1"/>
<circle cx="264.4" cy="612.7" r="1.4" fill="#15172e"/>
<text x="271.4" y="614.6" font-size="6.6" text-anchor="start" fill="#303030" stroke="#303030">Oral semaglutide 14 mg</text>
<text x="355.4" y="615.4" font-size="6.6" text-anchor="middle" fill="#303030" stroke="#303030">175</text>
<text x="377.0" y="615.4" font-size="6.6" text-anchor="middle" fill="#303030" stroke="#303030">169</text>
<text x="398.8" y="615.4" font-size="6.6" text-anchor="middle" fill="#303030" stroke="#303030">163</text>
<text x="430.3" y="615.4" font-size="6.6" text-anchor="middle" fill="#303030" stroke="#303030">156</text>
<text x="461.2" y="615.4" font-size="6.6" text-anchor="middle" fill="#303030" stroke="#303030">152</text>
<text x="492.3" y="615.4" font-size="6.6" text-anchor="middle" fill="#303030" stroke="#303030">149</text>
<line x1="259.79999999999995" y1="620.7" x2="269.0" y2="620.7" stroke="#a9a9a9" stroke-width="1"/>
<circle cx="264.4" cy="620.7" r="1.4" fill="#fff" stroke="#a9a9a9" stroke-width="0.7"/>
<text x="271.4" y="622.6" font-size="6.6" text-anchor="start" fill="#303030" stroke="#303030">Placebo</text>
<text x="355.4" y="623.4" font-size="6.6" text-anchor="middle" fill="#303030" stroke="#303030">178</text>
<text x="377.0" y="623.4" font-size="6.6" text-anchor="middle" fill="#303030" stroke="#303030">173</text>
<text x="398.8" y="623.4" font-size="6.6" text-anchor="middle" fill="#303030" stroke="#303030">167</text>
<text x="430.3" y="623.4" font-size="6.6" text-anchor="middle" fill="#303030" stroke="#303030">159</text>
<text x="461.2" y="623.4" font-size="6.6" text-anchor="middle" fill="#303030" stroke="#303030">141</text>
<text x="492.3" y="623.4" font-size="6.6" text-anchor="middle" fill="#303030" stroke="#303030">134</text>
<line x1="64.4" y1="687.5" x2="259" y2="687.5" stroke="#dcdcdc" stroke-width="1"/>
<line x1="64.4" y1="707.5" x2="259" y2="707.5" stroke="#dcdcdc" stroke-width="1"/>
<line x1="64.4" y1="727.5" x2="259" y2="727.5" stroke="#dcdcdc" stroke-width="1"/>
<line x1="64.4" y1="747.5" x2="259" y2="747.5" stroke="#dcdcdc" stroke-width="1"/>
<line x1="64.4" y1="766.5" x2="259" y2="766.5" stroke="#dcdcdc" stroke-width="1"/>
<rect x="70.0" y="668.0" width="38.0" height="29.6" fill="#84b3d0"/>
<rect x="117.8" y="668.0" width="38.4" height="45.4" fill="#4e97dc"/>
<rect x="166.8" y="668.0" width="38.4" height="73.1" fill="#252b5c"/>
<rect x="214.8" y="668.0" width="38.4" height="27.6" fill="#aeaaa1"/>
<line x1="64.5" y1="667.5" x2="64.5" y2="767.2" stroke="#6e6e6e" stroke-width="1"/>
<line x1="61.900000000000006" y1="668.5" x2="259" y2="668.5" stroke="#6e6e6e" stroke-width="1"/>
<line x1="61.900000000000006" y1="668.0" x2="64.4" y2="668.0" stroke="#6e6e6e" stroke-width="0.8"/>
<text x="59.6" y="670.7" font-size="8.6" text-anchor="end" fill="#303030" stroke="#303030">0</text>
<line x1="61.900000000000006" y1="687.8" x2="64.4" y2="687.8" stroke="#6e6e6e" stroke-width="0.8"/>
<text x="59.6" y="690.5" font-size="8.6" text-anchor="end" fill="#303030" stroke="#303030">−1</text>
<line x1="61.900000000000006" y1="707.5" x2="64.4" y2="707.5" stroke="#6e6e6e" stroke-width="0.8"/>
<text x="59.6" y="710.2" font-size="8.6" text-anchor="end" fill="#303030" stroke="#303030">−2</text>
<line x1="61.900000000000006" y1="727.2" x2="64.4" y2="727.2" stroke="#6e6e6e" stroke-width="0.8"/>
<text x="59.6" y="730.0" font-size="8.6" text-anchor="end" fill="#303030" stroke="#303030">−3</text>
<line x1="61.900000000000006" y1="747.0" x2="64.4" y2="747.0" stroke="#6e6e6e" stroke-width="0.8"/>
<text x="59.6" y="749.7" font-size="8.6" text-anchor="end" fill="#303030" stroke="#303030">−4</text>
<line x1="61.900000000000006" y1="766.8" x2="64.4" y2="766.8" stroke="#6e6e6e" stroke-width="0.8"/>
<text x="59.6" y="769.5" font-size="8.6" text-anchor="end" fill="#303030" stroke="#303030">−5</text>
<line x1="113.1" y1="666.2" x2="113.1" y2="668.0" stroke="#6e6e6e" stroke-width="0.7"/>
<line x1="161.7" y1="666.2" x2="161.7" y2="668.0" stroke="#6e6e6e" stroke-width="0.7"/>
<line x1="210.3" y1="666.2" x2="210.3" y2="668.0" stroke="#6e6e6e" stroke-width="0.7"/>
<line x1="259.0" y1="666.2" x2="259.0" y2="668.0" stroke="#6e6e6e" stroke-width="0.7"/>
<text x="89.0" y="664.2" font-size="8.6" text-anchor="middle" fill="#303030" stroke="#303030">3 mg</text>
<text x="137.0" y="664.2" font-size="8.6" text-anchor="middle" fill="#303030" stroke="#303030">7 mg</text>
<text x="186.0" y="664.2" font-size="8.6" text-anchor="middle" fill="#303030" stroke="#303030">14 mg</text>
<text x="234.0" y="664.2" font-size="8.6" text-anchor="middle" fill="#303030" stroke="#303030">Placebo</text>
<text x="137.6" y="650.4" font-size="8.75" text-anchor="middle" fill="#303030" stroke="#303030">Oral semaglutide</text>
<text x="89.0" y="691.8" font-size="8.6" text-anchor="middle" fill="#fff" stroke="#fff">−1.5</text>
<text x="137.0" y="707.6" font-size="8.6" text-anchor="middle" fill="#fff" stroke="#fff">−2.3</text>
<text x="186.0" y="735.3" font-size="8.6" text-anchor="middle" fill="#fff" stroke="#fff">−3.7</text>
<text x="234.0" y="689.9" font-size="8.6" text-anchor="middle" fill="#fff" stroke="#fff">−1.4</text>
<line x1="324.6" y1="687.5" x2="519.2" y2="687.5" stroke="#dcdcdc" stroke-width="1"/>
<line x1="324.6" y1="707.5" x2="519.2" y2="707.5" stroke="#dcdcdc" stroke-width="1"/>
<line x1="324.6" y1="727.5" x2="519.2" y2="727.5" stroke="#dcdcdc" stroke-width="1"/>
<line x1="324.6" y1="747.5" x2="519.2" y2="747.5" stroke="#dcdcdc" stroke-width="1"/>
<line x1="324.6" y1="766.5" x2="519.2" y2="766.5" stroke="#dcdcdc" stroke-width="1"/>
<rect x="329.5" y="668.0" width="38.0" height="33.6" fill="#84b3d0"/>
<rect x="377.3" y="668.0" width="38.4" height="49.4" fill="#4e97dc"/>
<rect x="426.3" y="668.0" width="38.4" height="81.0" fill="#252b5c"/>
<rect x="474.3" y="668.0" width="38.4" height="29.6" fill="#aeaaa1"/>
<line x1="324.5" y1="667.5" x2="324.5" y2="767.2" stroke="#6e6e6e" stroke-width="1"/>
<line x1="322.1" y1="668.5" x2="519.2" y2="668.5" stroke="#6e6e6e" stroke-width="1"/>
<line x1="322.1" y1="668.0" x2="324.6" y2="668.0" stroke="#6e6e6e" stroke-width="0.8"/>
<text x="319.8" y="670.7" font-size="8.6" text-anchor="end" fill="#303030" stroke="#303030">0</text>
<line x1="322.1" y1="687.8" x2="324.6" y2="687.8" stroke="#6e6e6e" stroke-width="0.8"/>
<text x="319.8" y="690.5" font-size="8.6" text-anchor="end" fill="#303030" stroke="#303030">−1</text>
<line x1="322.1" y1="707.5" x2="324.6" y2="707.5" stroke="#6e6e6e" stroke-width="0.8"/>
<text x="319.8" y="710.2" font-size="8.6" text-anchor="end" fill="#303030" stroke="#303030">−2</text>
<line x1="322.1" y1="727.2" x2="324.6" y2="727.2" stroke="#6e6e6e" stroke-width="0.8"/>
<text x="319.8" y="730.0" font-size="8.6" text-anchor="end" fill="#303030" stroke="#303030">−3</text>
<line x1="322.1" y1="747.0" x2="324.6" y2="747.0" stroke="#6e6e6e" stroke-width="0.8"/>
<text x="319.8" y="749.7" font-size="8.6" text-anchor="end" fill="#303030" stroke="#303030">−4</text>
<line x1="322.1" y1="766.8" x2="324.6" y2="766.8" stroke="#6e6e6e" stroke-width="0.8"/>
<text x="319.8" y="769.5" font-size="8.6" text-anchor="end" fill="#303030" stroke="#303030">−5</text>
<line x1="373.2" y1="666.2" x2="373.2" y2="668.0" stroke="#6e6e6e" stroke-width="0.7"/>
<line x1="421.9" y1="666.2" x2="421.9" y2="668.0" stroke="#6e6e6e" stroke-width="0.7"/>
<line x1="470.6" y1="666.2" x2="470.6" y2="668.0" stroke="#6e6e6e" stroke-width="0.7"/>
<line x1="519.2" y1="666.2" x2="519.2" y2="668.0" stroke="#6e6e6e" stroke-width="0.7"/>
<text x="348.5" y="664.2" font-size="8.6" text-anchor="middle" fill="#303030" stroke="#303030">3 mg</text>
<text x="396.5" y="664.2" font-size="8.6" text-anchor="middle" fill="#303030" stroke="#303030">7 mg</text>
<text x="445.5" y="664.2" font-size="8.6" text-anchor="middle" fill="#303030" stroke="#303030">14 mg</text>
<text x="493.5" y="664.2" font-size="8.6" text-anchor="middle" fill="#303030" stroke="#303030">Placebo</text>
<text x="397.1" y="650.4" font-size="8.75" text-anchor="middle" fill="#303030" stroke="#303030">Oral semaglutide</text>
<text x="348.5" y="695.8" font-size="8.6" text-anchor="middle" fill="#fff" stroke="#fff">−1.7</text>
<text x="396.5" y="711.6" font-size="8.6" text-anchor="middle" fill="#fff" stroke="#fff">−2.5</text>
<text x="445.5" y="743.2" font-size="8.6" text-anchor="middle" fill="#fff" stroke="#fff">−4.1</text>
<text x="493.5" y="691.8" font-size="8.6" text-anchor="middle" fill="#fff" stroke="#fff">−1.5</text>
<text transform="translate(27.5,717.0) rotate(-90)" font-size="8.8" text-anchor="middle" fill="#303030" stroke="#303030">Change from baseline</text>
<text transform="translate(39.0,718.0) rotate(-90)" font-size="8.8" text-anchor="middle" fill="#303030" stroke="#303030">in body weight (kg)</text>
<text transform="translate(287.7,717.0) rotate(-90)" font-size="8.8" text-anchor="middle" fill="#303030" stroke="#303030">Change from baseline</text>
<text transform="translate(299.2,718.0) rotate(-90)" font-size="8.8" text-anchor="middle" fill="#303030" stroke="#303030">in body weight (kg)</text>
<text x="20.5" y="784.5" font-size="7.62" text-anchor="start" fill="#303030" stroke="#303030">ETD [95%CI] kg; <tspan font-style="italic">P</tspan> value</text>
<text x="20.5" y="793.6" font-size="7.62" text-anchor="start" fill="#303030" stroke="#303030">Oral semaglutide 3 mg vs placebo:</text>
<text x="148.0" y="793.6" font-size="7.62" text-anchor="start" fill="#303030" stroke="#303030">−0.1 [−0.9 to 0.8] kg; <tspan font-style="italic">P</tspan>=0.87</text>
<text x="20.5" y="802.6" font-size="7.62" text-anchor="start" fill="#303030" stroke="#303030">Oral semaglutide 7 mg vs placebo:</text>
<text x="148.0" y="802.6" font-size="7.62" text-anchor="start" fill="#303030" stroke="#303030">−0.9 [−1.9 to 0.1] kg; <tspan font-style="italic">P</tspan>=0.09</text>
<text x="20.5" y="811.7" font-size="7.62" text-anchor="start" fill="#303030" stroke="#303030">Oral semaglutide 14 mg vs placebo:</text>
<text x="148.0" y="811.7" font-size="7.62" text-anchor="start" fill="#303030" stroke="#303030">−2.3 [−3.1 to −1.5] kg; <tspan font-style="italic">P</tspan>&lt;0.001</text>
<text x="281.0" y="784.5" font-size="7.62" text-anchor="start" fill="#303030" stroke="#303030">ETD [95%CI] kg; <tspan font-style="italic">P</tspan> value</text>
<text x="281.0" y="793.6" font-size="7.62" text-anchor="start" fill="#303030" stroke="#303030">Oral semaglutide 3 mg vs placebo:</text>
<text x="408.5" y="793.6" font-size="7.62" text-anchor="start" fill="#303030" stroke="#303030">−0.2 [−1.0 to 0.6] kg; <tspan font-style="italic">P</tspan>=0.71</text>
<text x="281.0" y="802.6" font-size="7.62" text-anchor="start" fill="#303030" stroke="#303030">Oral semaglutide 7 mg vs placebo:</text>
<text x="408.5" y="802.6" font-size="7.62" text-anchor="start" fill="#303030" stroke="#303030">−1.0 [−1.8 to −0.2] kg; <tspan font-style="italic">P</tspan>=0.01</text>
<text x="281.0" y="811.7" font-size="7.62" text-anchor="start" fill="#303030" stroke="#303030">Oral semaglutide 14 mg vs placebo:</text>
<text x="408.5" y="811.7" font-size="7.62" text-anchor="start" fill="#303030" stroke="#303030">−2.6 [−3.4 to −1.8] kg; <tspan font-style="italic">P</tspan>&lt;0.001</text>
</svg>
</body></html>
